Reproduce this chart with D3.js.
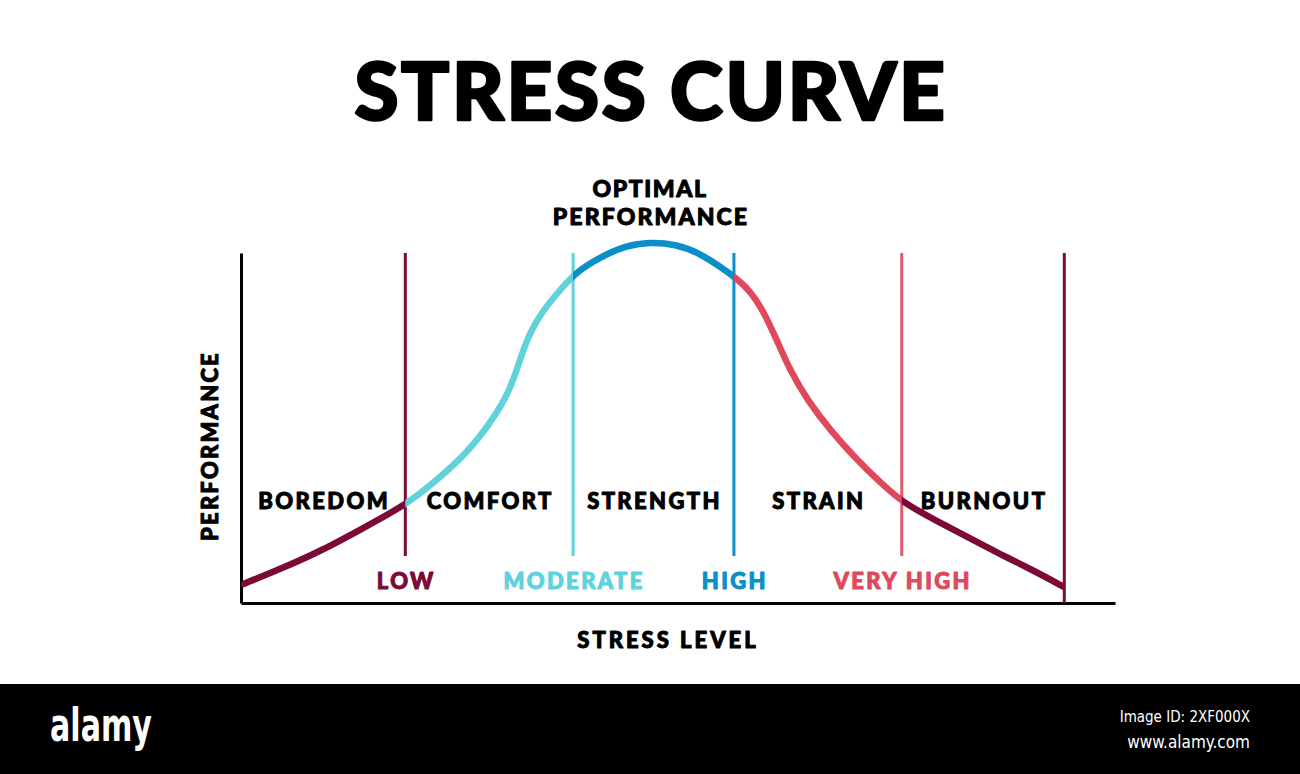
<!DOCTYPE html>
<html>
<head>
<meta charset="utf-8">
<script src="https://cdn.jsdelivr.net/npm/d3@7"></script>
<style>
  html, body { margin: 0; padding: 0; background: #fff; }
  svg text.lbl { font-family: "Lato", "Open Sans", sans-serif; font-weight: 900; }
</style>
</head>
<body>
<div id="chart"></div>
<script>
// stress level (x) and performance (y), 0-100 scale
var stress      = [0, 4.8, 9.4, 14.0, 18.8, 22.0, 25.9, 28.8, 30.8, 31.9, 33.0, 34.6, 36.5, 38.2, 41.1, 43.9, 46.8, 49.7, 52.5, 56.2, 58.2, 59.7, 61.3, 62.8, 64.8, 67.4, 70.5, 73.1, 75.6, 79.4, 83.1, 86.8, 90.6, 94.2];
var performance = [5.0, 9.7, 14.7, 20.8, 27.1, 33.2, 41.6, 50.7, 59.0, 67.3, 74.8, 81.2, 86.7, 91.4, 95.8, 98.9, 100, 99.4, 97.0, 90.9, 86.7, 81.2, 72.9, 64.5, 56.2, 47.9, 39.6, 33.5, 28.0, 23.0, 18.3, 13.6, 9.1, 4.4];

// zone boundaries on the stress axis
var zoneEdges  = [0, 18.8, 38.0, 56.4, 75.6, 94.2];
var zoneNames  = ["BOREDOM", "COMFORT", "STRENGTH", "STRAIN", "BURNOUT"];
var levelNames = ["LOW", "MODERATE", "HIGH", "VERY HIGH"];

var zoneColors = ["#7c0a36", "#5fd2db", "#0b8fc9", "#e0495b", "#7c0a36"];
var lineColors = ["#7c0a36", "#5fd2db", "#0b8fc9", "#e35b6b", "#7c0a36"];

var W = 1300, H = 774;

var svg = d3.select("#chart")
  .append("svg")
  .attr("width", W)
  .attr("height", H);

svg.append("rect").attr("width", W).attr("height", H).attr("fill", "#fff");

var x = d3.scaleLinear().domain([0, 100]).range([241, 1115]);
var y = d3.scaleLinear().domain([0, 100]).range([603, 242]);

var lineTop = 253, lineBottom = 556;

// bold label helper: fill plus a thin stroke of the same colour
function label(sel, size, spacing, weight) {
  return sel
    .attr("class", "lbl")
    .style("font-size", size + "px")
    .style("letter-spacing", spacing + "px")
    .attr("stroke", function () { return d3.select(this).attr("fill") || "#000"; })
    .attr("stroke-width", weight)
    .attr("stroke-linejoin", "round");
}

// title
svg.append("text")
  .attr("x", 651)
  .attr("y", 120)
  .attr("text-anchor", "middle")
  .attr("fill", "#000")
  .text("STRESS CURVE")
  .call(label, 80, 2.6, 2.6);

svg.append("text")
  .attr("x", 650)
  .attr("y", 197)
  .attr("text-anchor", "middle")
  .attr("fill", "#000")
  .text("OPTIMAL")
  .call(label, 23, 1.6, 1);

svg.append("text")
  .attr("x", 651)
  .attr("y", 225)
  .attr("text-anchor", "middle")
  .attr("fill", "#000")
  .text("PERFORMANCE")
  .call(label, 23, 2.1, 1);

// axes (no ticks, just the lines)
var yAxisScale = y.copy().domain([0, y.invert(lineTop)]).range([603, lineTop]);

svg.append("g")
  .attr("class", "myXaxis")
  .attr("transform", "translate(0," + y(0) + ")")
  .call(d3.axisBottom(x).tickValues([]).tickSizeOuter(0))
  .select(".domain")
  .attr("stroke", "#000")
  .attr("stroke-width", 3);

svg.append("g")
  .attr("class", "myYaxis")
  .attr("transform", "translate(" + x(0) + ",0)")
  .call(d3.axisLeft(yAxisScale).tickValues([]).tickSizeOuter(0))
  .select(".domain")
  .attr("stroke", "#000")
  .attr("stroke-width", 3);

// zone separators
svg.append("g")
  .selectAll("line")
  .data(zoneEdges.slice(1))
  .enter()
  .append("line")
  .attr("x1", function (d) { return x(d); })
  .attr("x2", function (d) { return x(d); })
  .attr("y1", lineTop)
  .attr("y2", function (d, i) { return i == zoneEdges.length - 2 ? y(0) : lineBottom; })
  .attr("stroke", function (d, i) { return lineColors[i]; })
  .attr("stroke-width", 3);

// curve, one coloured copy clipped to each zone
var points = stress.map(function (s, i) { return [s, performance[i]]; });

var curve = d3.line()
  .x(function (d) { return x(d[0]); })
  .y(function (d) { return y(d[1]); })
  .curve(d3.curveBasis);

var defs = svg.append("defs");
zoneNames.forEach(function (name, i) {
  defs.append("clipPath")
    .attr("id", "zone" + i)
    .append("rect")
    .attr("x", x(zoneEdges[i]))
    .attr("y", 0)
    .attr("width", x(zoneEdges[i + 1]) - x(zoneEdges[i]))
    .attr("height", H);
});

svg.append("g")
  .selectAll("path")
  .data(zoneNames)
  .enter()
  .append("path")
  .attr("d", curve(points))
  .attr("clip-path", function (d, i) { return "url(#zone" + i + ")"; })
  .attr("fill", "none")
  .attr("stroke", function (d, i) { return zoneColors[i]; })
  .attr("stroke-width", 6.5);

// zone names
svg.append("g")
  .selectAll("text")
  .data(zoneNames)
  .enter()
  .append("text")
  .attr("x", function (d, i) { return x((zoneEdges[i] + zoneEdges[i + 1]) / 2) + 1; })
  .attr("y", 509)
  .attr("text-anchor", "middle")
  .attr("fill", "#000")
  .text(function (d) { return d; })
  .call(label, 22, 2.4, 1);

// stress levels under the separators
svg.append("g")
  .selectAll("text")
  .data(levelNames)
  .enter()
  .append("text")
  .attr("x", function (d, i) { return x(zoneEdges[i + 1]) + 1; })
  .attr("y", 589)
  .attr("text-anchor", "middle")
  .attr("fill", function (d, i) { return zoneColors[i]; })
  .text(function (d) { return d; })
  .call(label, 22, 2.4, 1);

// axis titles
svg.append("text")
  .attr("x", 668)
  .attr("y", 648)
  .attr("text-anchor", "middle")
  .attr("fill", "#000")
  .text("STRESS LEVEL")
  .call(label, 22, 3, 1);

svg.append("text")
  .attr("transform", "translate(218,446) rotate(-90)")
  .attr("text-anchor", "middle")
  .attr("fill", "#000")
  .text("PERFORMANCE")
  .call(label, 22, 2.2, 1);

// bottom band
svg.append("rect")
  .attr("x", 0)
  .attr("y", 684)
  .attr("width", W)
  .attr("height", H - 684)
  .attr("fill", "#000");

svg.append("text")
  .attr("x", 50)
  .attr("y", 741)
  .attr("fill", "#fff")
  .attr("textLength", 102)
  .attr("lengthAdjust", "spacingAndGlyphs")
  .style("font-family", "'DejaVu Sans', sans-serif")
  .style("font-weight", "700")
  .style("font-size", "46px")
  .text("alamy");

svg.append("text")
  .attr("x", 1250)
  .attr("y", 722)
  .attr("text-anchor", "end")
  .attr("fill", "#fff")
  .style("font-family", "'DejaVu Sans Condensed', 'Liberation Sans', sans-serif")
  .style("font-weight", "400")
  .style("font-size", "15px")
  .text("Image ID: 2XF000X");

svg.append("text")
  .attr("x", 1250)
  .attr("y", 748)
  .attr("text-anchor", "end")
  .attr("fill", "#fff")
  .style("font-family", "'DejaVu Sans Condensed', 'Liberation Sans', sans-serif")
  .style("font-weight", "400")
  .style("font-size", "17px")
  .text("www.alamy.com");
</script>
</body>
</html>
